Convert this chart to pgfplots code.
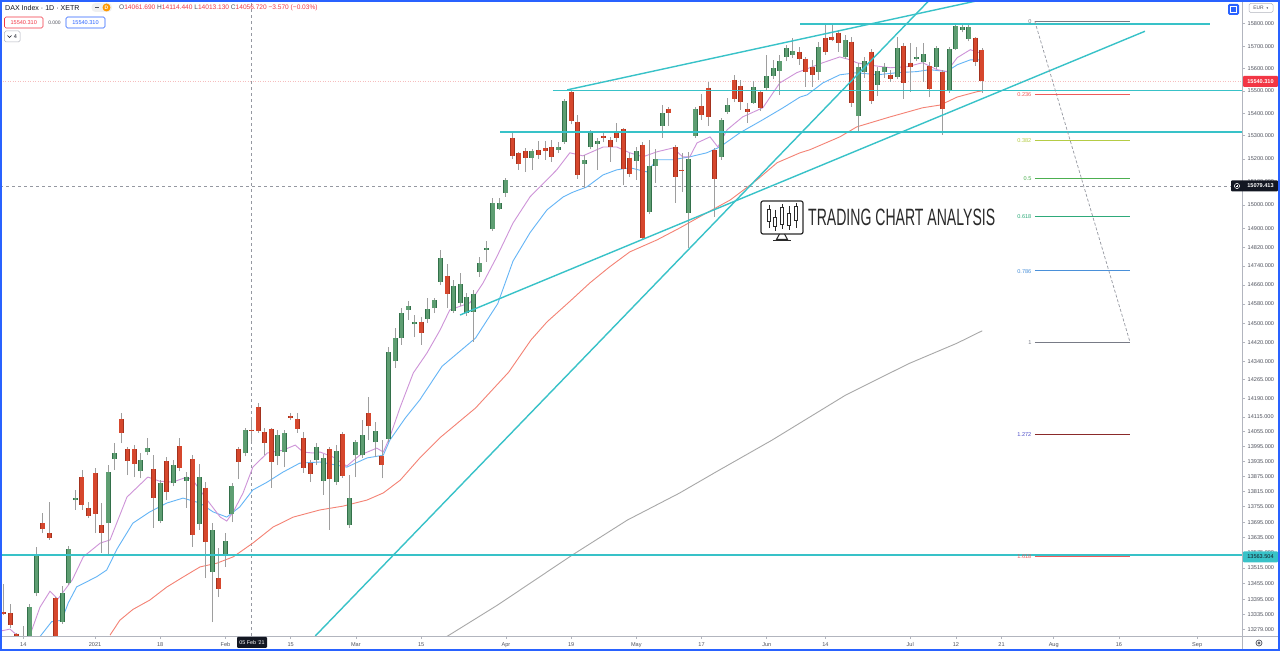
\documentclass[border=0pt]{standalone}
\usepackage{pgfplots}
\pgfplotsset{compat=1.18}
\usepackage{pgfplotstable}
\usepackage{graphicx}
\usepackage{amssymb}
\usepackage{fontspec}
\setmainfont{Liberation Sans}
\setsansfont{Liberation Sans}

\definecolor{upfill}{HTML}{5E9E72}
\definecolor{upedge}{HTML}{33704A}
\definecolor{dnfill}{HTML}{D6472D}
\definecolor{dnedge}{HTML}{A3321E}
\definecolor{wick}{HTML}{9E9E9E}
\definecolor{maviolet}{HTML}{CE93D8}
\definecolor{mablue}{HTML}{64B5F6}
\definecolor{mared}{HTML}{F48274}
\definecolor{magray}{HTML}{A8A8A8}
\definecolor{cyanl}{RGB}{56,194,200}
\definecolor{axisgray}{HTML}{B2B5BE}
\definecolor{labelgray}{HTML}{50535E}
\definecolor{crossgray}{HTML}{9598A1}
\definecolor{pricepink}{HTML}{F6BEBE}
\definecolor{tvred}{HTML}{F23645}
\definecolor{tvblue}{HTML}{2962FF}
\definecolor{tvdark}{HTML}{131722}
\definecolor{fibgray}{HTML}{787B86}
\definecolor{fibred}{HTML}{F05A5A}
\definecolor{fibolive}{HTML}{B5CC45}
\definecolor{fibgreen}{HTML}{4CAF50}
\definecolor{fibteal}{HTML}{2EAA7A}
\definecolor{fibblue}{HTML}{4A90D9}
\definecolor{fibviolet}{HTML}{4B4BC8}
\definecolor{fibmaroon}{HTML}{8B2A2A}
\definecolor{logo}{HTML}{2A2A2A}

% daily candles, i = trading day counted from 14 Dec 2020
\pgfplotstableread{
i O H L C
-3 13345 13452 13333 13338
-2 13341 13376 13283 13295
-1 13262 13266 13050 13114
0 13130 13291 13120 13240
1 13240 13376 13200 13364
2 13417 13597 13406 13561
3 13690 13730 13651 13667
4 13651 13773 13624 13632
5 13399 13403 13030 13246
6 13308 13445 13300 13419
7 13456 13600 13448 13589
8 13781 13821 13742 13789
9 13872 13900 13742 13762
10 13750 13773 13710 13718
11 13888 13908 13651 13726
12 13682 13769 13573 13651
13 13690 13920 13565 13892
14 13944 14008 13900 13968
15 14105 14130 14008 14049
16 13984 13992 13880 13936
17 13984 14000 13872 13924
18 13896 13968 13868 13940
19 13972 14028 13960 13988
20 13904 13960 13671 13789
21 13698 13860 13690 13848
22 13936 13952 13781 13813
23 13848 13940 13835 13920
24 13996 14028 13895 13908
25 13856 13892 13750 13872
26 13944 13960 13597 13643
27 13686 13924 13663 13872
28 13829 13852 13476 13616
29 13499 13690 13306 13663
30 13476 13593 13402 13433
31 13561 13651 13518 13620
32 13726 13848 13694 13837
33 13984 13992 13864 13932
34 13968 14069 13955 14061
35 14061.69 14114.44 14013.13 14056.72
36 14154 14171 14050 14057
37 14053 14069 13960 14008
38 14065 14069 13829 13932
39 13956 14061 13920 14041
40 13972 14061 13912 14049
41 14118 14130 14101 14109
42 14105 14130 14050 14065
43 14028 14053 13890 13908
44 13928 13940 13852 13884
45 13940 14008 13920 13992
46 13856 13964 13801 13948
47 13984 13992 13663 13864
48 13852 14000 13840 13976
49 14045 14053 13870 13876
50 13682 13880 13671 13789
51 13960 14020 13872 14012
52 13960 14101 13950 14041
53 14130 14195 14020 14077
54 14012 14093 13952 14057
55 13956 14020 13868 13920
56 14024 14400 14010 14380
57 14342 14478 14313 14437
58 14437 14562 14408 14541
59 14554 14592 14512 14571
60 14494 14533 14441 14504
61 14504 14525 14408 14458
62 14517 14604 14500 14558
63 14562 14605 14540 14596
64 14672 14807 14660 14773
65 14697 14747 14562 14621
66 14550 14680 14540 14655
67 14583 14710 14570 14663
68 14541 14625 14530 14609
69 14546 14638 14420 14621
70 14714 14777 14693 14751
71 14807 14846 14756 14816
72 14896 15030 14890 15008
73 14982 15030 14978 15008
74 15051 15116 15034 15107
75 15291 15317 15200 15212
76 15225 15230 15150 15177
77 15234 15247 15142 15203
78 15203 15243 15151 15234
79 15238 15278 15200 15216
80 15247 15278 15195 15234
81 15251 15282 15186 15208
82 15238 15273 15225 15251
83 15273 15463 15265 15455
84 15494 15503 15350 15366
85 15361 15392 15110 15129
86 15177 15216 15072 15195
87 15251 15326 15240 15317
88 15264 15291 15151 15278
89 15300 15317 15270 15291
90 15282 15295 15186 15251
91 15317 15357 15270 15291
92 15330 15335 15085 15155
93 15203 15225 15120 15134
94 15190 15251 15107 15234
95 15260 15270 14850 14858
96 14969 15282 14960 15168
97 15168 15243 15094 15199
98 15344 15436 15291 15401
99 15419 15427 15344 15401
100 15251 15260 15008 15120
101 15150 15225 15055 15147
102 14965 15230 14816 15199
103 15300 15427 15290 15419
104 15432 15485 15370 15392
105 15512 15539 15344 15383
106 15238 15247 14948 15111
107 15208 15379 15195 15370
108 15405 15467 15395 15436
109 15548 15570 15450 15463
110 15521 15548 15414 15450
111 15419 15445 15357 15405
112 15445 15543 15440 15516
113 15494 15499 15410 15423
114 15512 15659 15500 15566
115 15566 15637 15550 15602
116 15588 15659 15481 15633
117 15650 15705 15630 15691
118 15659 15737 15645 15677
119 15673 15696 15614 15641
120 15641 15650 15516 15584
121 15606 15637 15516 15570
122 15584 15718 15548 15696
123 15737 15800 15660 15673
124 15741 15795 15720 15728
125 15759 15773 15673 15714
126 15650 15750 15640 15728
127 15719 15741 15427 15445
128 15388 15624 15313 15606
129 15584 15650 15557 15633
130 15673 15687 15440 15454
131 15525 15606 15476 15588
132 15584 15624 15557 15606
133 15570 15593 15540 15552
134 15561 15741 15550 15691
135 15700 15714 15463 15534
136 15624 15714 15494 15606
137 15641 15696 15630 15650
138 15628 15714 15539 15664
139 15610 15628 15472 15508
140 15606 15700 15597 15691
141 15584 15593 15304 15419
142 15499 15696 15490 15687
143 15687 15804 15680 15791
144 15773 15800 15760 15786
145 15732 15804 15720 15786
146 15737 15741 15610 15628
147 15682 15690 15490 15540.31
}\ohlc

% turn the table into segment lists (wick: low-high, body: open-close)
\pgfplotstablegetrowsof{\ohlc}
\pgfmathtruncatemacro\lastrow{\pgfplotsretval-1}
\gdef\wicklist{}\gdef\uplist{}\gdef\dnlist{}
\pgfplotsforeachungrouped \r in {0,...,\lastrow}{%
  \pgfplotstablegetelem{\r}{i}\of\ohlc \let\ci\pgfplotsretval
  \pgfplotstablegetelem{\r}{O}\of\ohlc \let\co\pgfplotsretval
  \pgfplotstablegetelem{\r}{H}\of\ohlc \let\ch\pgfplotsretval
  \pgfplotstablegetelem{\r}{L}\of\ohlc \let\cl\pgfplotsretval
  \pgfplotstablegetelem{\r}{C}\of\ohlc \let\cc\pgfplotsretval
  \xdef\wicklist{\wicklist (\ci,\cl) (\ci,\ch) (\ci,nan)}%
  \pgfmathtruncatemacro\isup{\cc<\co ? 0 : 1}%
  \ifnum\isup=1
    \xdef\uplist{\uplist (\ci,\co) (\ci,\cc) (\ci,nan)}%
  \else
    \xdef\dnlist{\dnlist (\ci,\co) (\ci,\cc) (\ci,nan)}%
  \fi
}
\def\nanword{nan}

\begin{document}
\begin{tikzpicture}
\path[use as bounding box] (0,0) rectangle (1280bp,651bp);
\fill[white] (0,0) rectangle (1280bp,651bp);

\begin{axis}[
  at={(0,15bp)}, anchor=south west,
  scale only axis, width=1242bp, height=636bp,
  % price axis is logarithmic, as in the screenshot
  y coord trafo/.code={\edef\tmpy{#1}\ifx\tmpy\nanword\def\pgfmathresult{nan}\else\pgfmathparse{10000*(ln(#1)-9.5)}\fi},
  xmin=-3.57, xmax=186.87,
  ymin=13254, ymax=15909,
  scaled y ticks=false,
  axis x line*=bottom, axis y line*=right,
  axis line style={draw=axisgray, line width=0.8bp},
  tick style={draw=axisgray, line width=0.6bp},
  tick align=outside, major tick length=3bp,
  unbounded coords=jump,
  xtick={0,11,21,31,41,51,61,74,84,94,104,114,123,136,143,150,158,168,180},
  xticklabels={14,2021,18,Feb,15,Mar,15,Apr,19,May,17,Jun,14,Jul,12,21,Aug,16,Sep},
  ytick={13279,13335,13395,13455,13515,13575,13635,13695,13755,13815,13875,13935,13995,14055,14115,14190,14265,14340,14420,14500,14580,14660,14740,14820,14900,15000,15100,15200,15300,15400,15500,15600,15700,15800},
  yticklabels={13279.000,13335.000,13395.000,13455.000,13515.000,13575.000,13635.000,13695.000,13755.000,13815.000,13875.000,13935.000,13995.000,14055.000,14115.000,14190.000,14265.000,14340.000,14420.000,14500.000,14580.000,14660.000,14740.000,14820.000,14900.000,15000.000,15100.000,15200.000,15300.000,15400.000,15500.000,15600.000,15700.000,15800.000},
  ticklabel style={font=\fontsize{5.6}{6.5}\selectfont, text=labelgray},
  xticklabel style={inner sep=0pt, yshift=-3bp},
  yticklabel style={inner sep=0pt, xshift=2.5bp},
]

% crosshair and last-price line
\addplot[crossgray, line width=0.6bp, dash pattern=on 3bp off 3bp, forget plot] coordinates {(35,13254) (35,15909)};
\addplot[crossgray, line width=0.6bp, dash pattern=on 3bp off 3bp, forget plot] coordinates {(-3.57,15079.413) (186.87,15079.413)};
\addplot[pricepink, line width=0.7bp, dash pattern=on 1bp off 1.5bp, forget plot] coordinates {(-3.57,15540.31) (186.87,15540.31)};

% moving averages
\addplot[magray, line width=0.9bp, mark=none] coordinates {
(63.0,13230) (65.09,13254) (72.75,13372) (84.11,13564) (92.62,13702) (100.58,13808)
(106.26,13893) (114.78,14020) (126.13,14203) (135.79,14332) (143.16,14415) (147.03,14467)};
\addplot[mared, line width=0.9bp, mark=none] coordinates {
(13.3,13257) (14.8,13314) (16.8,13355) (19.4,13391) (22.0,13441) (24.5,13480) (27.1,13519) (29.7,13534)
(32.2,13558) (35.2,13612) (38.3,13675) (41.4,13714) (45.5,13742) (49.0,13757) (52.7,13781)
(55.2,13809) (57.8,13860) (60.8,13948) (63.9,14030) (69.35,14150) (74.45,14297) (77.85,14429)
(80.3,14504) (83.8,14590) (86.9,14668) (89.9,14735) (93.0,14798) (97.2,14850) (100.7,14901)
(104.8,14965) (108.4,15021) (112.5,15107) (115.6,15182) (119.1,15225) (120.6,15238)
(125.2,15295) (127.8,15339) (132.9,15383) (137.9,15423) (140.6,15436) (143.2,15472)
(146.2,15494) (147.1,15499)};
\addplot[mablue, line width=0.9bp, mark=none] coordinates {
(2.56,13251) (4.35,13308) (5.89,13314) (6.9,13380) (8.19,13442) (11.25,13481) (12.79,13507)
(14.4,13590) (16.8,13690)
(19.4,13734) (22.0,13769) (24.5,13789) (27.1,13769) (29.1,13734) (31.2,13714) (33.2,13754)
(35.2,13821) (37.4,13852) (39.8,13892) (42.4,13928) (45.5,13932) (49.6,13912) (52.7,13948)
(55.2,13960) (56.2,14020) (58.6,14110) (60.8,14183) (64.2,14320) (69.35,14437) (72.75,14580)
(75.1,14760) (77.7,14880) (80.3,14978) (82.8,15034) (84.3,15055) (86.4,15077)
(88.9,15129) (91.0,15151) (93.0,15160) (95.6,15142) (97.2,15195) (99.6,15195) (102.2,15208)
(104.8,15225) (106.8,15251) (109.9,15313) (113.4,15370) (116.5,15423) (119.1,15472)
(120.2,15481) (122.6,15534) (125.2,15570) (127.8,15579) (130.9,15570) (134.0,15579)
(137.0,15584) (139.0,15593) (141.6,15584) (143.2,15615) (145.2,15637) (146.7,15637)};
\addplot[maviolet, line width=0.9bp, mark=none] coordinates {
(-3.57,13272) (-2.04,13280) (-0.97,13257) (0,13238) (1.03,13257) (2.56,13364) (4.1,13425)
(5.3,13395) (7.5,13468) (9.2,13558) (11.8,13612) (13.3,13624)
(15.9,13793) (19.1,13872) (20.9,13856) (22.9,13852) (25.1,13872) (26.0,13860) (28.2,13781)
(30.2,13714) (31.2,13698) (32.2,13734) (33.7,13809) (35.2,13912) (37.4,13968) (39.8,13980)
(41.7,14000) (42.9,13972) (44.4,13968) (45.5,13972) (47.5,13952) (49.6,13916) (51.6,13960)
(54.2,13988) (55.2,13972) (56.2,14032) (57.8,14154) (59.8,14293) (61.9,14375) (63.9,14470)
(65.4,14554) (68.5,14584) (70.5,14667) (72.6,14777) (75.1,14922) (77.7,15034) (81.8,15151)
(83.8,15225) (85.8,15212) (88.9,15251) (91.0,15251) (93.0,15225) (95.0,15208) (97.2,15230)
(99.6,15247) (101.1,15208) (102.2,15208) (103.3,15269) (105.3,15295) (106.5,15251)
(107.9,15326) (110.3,15383) (113.4,15423) (116.0,15534) (118.6,15579) (120.6,15601)
(122.6,15624) (125.2,15650) (126.8,15637) (127.8,15624) (129.4,15615) (132.9,15601)
(135.5,15606) (137.9,15624) (140.1,15593) (141.6,15584) (143.2,15646) (145.2,15682)
(146.7,15669) (147.1,15650)};

% candles, from the segment lists built out of \ohlc
\begingroup\edef\x{\endgroup
  \noexpand\addplot[wick, line width=0.9bp, mark=none, forget plot] coordinates {\wicklist};
  \noexpand\addplot[upedge, line width=5bp, mark=none, forget plot] coordinates {\uplist};
  \noexpand\addplot[upfill, line width=3.4bp, mark=none, forget plot] coordinates {\uplist};
  \noexpand\addplot[dnedge, line width=5bp, mark=none, forget plot] coordinates {\dnlist};
  \noexpand\addplot[dnfill, line width=3.4bp, mark=none, forget plot] coordinates {\dnlist};
}\x

% trend lines and levels
\addplot[cyanl, line width=1.8bp] coordinates {(119.1,15800) (182.0,15800)};
\addplot[cyanl, line width=1.8bp] coordinates {(81.2,15500) (186.87,15500)};
\addplot[cyanl, line width=1.8bp] coordinates {(73.1,15317) (186.87,15317)};
\addplot[cyanl, line width=1.8bp] coordinates {(-3.57,13563.504) (186.87,13563.504)};
\addplot[cyanl, line width=1.4bp] coordinates {(83.4,15503) (147.0,15909)};
\addplot[cyanl, line width=1.4bp] coordinates {(66.96,14533) (171.99,15766)};
\addplot[cyanl, line width=1.4bp] coordinates {(44.77,13254) (139.0,15909)};

% fibonacci retracement
\addplot[crossgray, line width=0.7bp, dash pattern=on 3bp off 2bp] coordinates {(155.1,15810) (169.7,14420)};
\addplot[fibgray, line width=1bp] coordinates {(155.1,15810) (169.7,15810)};
\addplot[fibred, line width=1bp] coordinates {(155.1,15481.96) (169.7,15481.96)};
\addplot[fibolive, line width=1bp] coordinates {(155.1,15279.0) (169.7,15279.0)};
\addplot[fibgreen, line width=1bp] coordinates {(155.1,15115.0) (169.7,15115.0)};
\addplot[fibteal, line width=1bp] coordinates {(155.1,14950.98) (169.7,14950.98)};
\addplot[fibblue, line width=1bp] coordinates {(155.1,14717.46) (169.7,14717.46)};
\addplot[fibgray, line width=1bp] coordinates {(155.1,14420) (169.7,14420)};
\addplot[fibmaroon, line width=1bp] coordinates {(155.1,14041.4) (169.7,14041.4)};
\addplot[fibred, line width=1bp] coordinates {(155.1,13560.4) (169.7,13560.4)};
\begin{scope}[every node/.style={anchor=east, inner sep=0pt, font=\fontsize{5.6}{6.5}\selectfont}]
\node[text=fibgray] at (axis cs:154.6,15810) {0};
\node[text=fibred] at (axis cs:154.6,15481.96) {0.236};
\node[text=fibolive] at (axis cs:154.6,15279.0) {0.382};
\node[text=fibgreen] at (axis cs:154.6,15115.0) {0.5};
\node[text=fibteal] at (axis cs:154.6,14950.98) {0.618};
\node[text=fibblue] at (axis cs:154.6,14717.46) {0.786};
\node[text=fibgray] at (axis cs:154.6,14420) {1};
\node[text=fibviolet] at (axis cs:154.6,14041.4) {1.272};
\node[text=fibred] at (axis cs:154.6,13560.4) {1.618};
\end{scope}
\end{axis}

% chrome around the chart, in pixel units (y downwards)
\begin{scope}[x=1bp, y=-1bp, yshift=651bp]
  \draw[axisgray, line width=0.8bp] (1242,636) -- (1280,636);
  \draw[axisgray, line width=0.8bp] (1242,636) -- (1242,651);
  % price labels on the axis
  \fill[tvred, rounded corners=1bp] (1243,76) rectangle (1278,87);
  \node[text=white, font=\fontsize{5.6}{6.5}\selectfont\bfseries, inner sep=0pt] at (1260.5,81.5) {15540.310};
  \fill[tvdark, rounded corners=1bp] (1231,180.5) rectangle (1278,191.5);
  \draw[white, line width=0.5bp] (1237,186) circle (2.6);
  \draw[white, line width=0.5bp] (1235.6,186) -- (1238.4,186) (1237,184.6) -- (1237,187.4);
  \node[text=white, font=\fontsize{5.6}{6.5}\selectfont\bfseries, inner sep=0pt] at (1260.5,186) {15079.413};
  \fill[cyanl, rounded corners=1bp] (1243,551.5) rectangle (1278,562.5);
  \node[text=tvdark, font=\fontsize{5.6}{6.5}\selectfont, inner sep=0pt] at (1260.5,557) {13563.504};
  % date label of crosshair
  \fill[tvdark, rounded corners=1bp] (237,637) rectangle (267,648);
  \node[text=white, font=\fontsize{5.4}{6.5}\selectfont, inner sep=0pt] at (252,642.5) {05 Feb '21};
  % currency box and icons
  \draw[axisgray, line width=0.5bp, rounded corners=1.5bp] (1249,3.5) rectangle (1273,12.5);
  \node[text=labelgray, font=\fontsize{5}{6}\selectfont, inner sep=0pt] at (1261,8) {EUR \,\raisebox{0.3bp}{\scalebox{0.6}{$\blacktriangledown$}}};
  \fill[tvblue, rounded corners=1.5bp] (1228,4) rectangle (1239,15);
  \draw[white, line width=0.7bp] (1230.8,6.8) rectangle (1236.2,12.2);
  \draw[labelgray, line width=0.7bp] (1259,643) circle (3);
  \draw[labelgray, line width=0.7bp] (1259,643) circle (1.1);
  % header
  \node[anchor=west, inner sep=0pt, text=tvdark, font=\fontsize{7.1}{8}\selectfont] at (5,7.5) {DAX Index · 1D · XETR};
  \fill[black!6, rounded corners=4bp] (91.5,3) rectangle (112,12);
  \draw[labelgray, line width=0.6bp] (95,7.5) -- (99,7.5);
  \fill[orange!80!yellow] (106.5,7.5) circle (4);
  \node[text=white, font=\fontsize{5}{6}\selectfont\bfseries, inner sep=0pt] at (106.5,7.5) {D};
  \node[anchor=west, inner sep=0pt, font=\fontsize{6.6}{8}\selectfont] at (119,7.5)
    {\color{labelgray}O\color{tvred}14061.690 \color{labelgray}H\color{tvred}14114.440 \color{labelgray}L\color{tvred}14013.130 \color{labelgray}C\color{tvred}14056.720 −3.570 (−0.03\%)};
  \draw[tvred, line width=0.6bp, rounded corners=1.5bp] (4.5,17) rectangle (43,28);
  \node[text=tvred, font=\fontsize{5.6}{6.5}\selectfont, inner sep=0pt] at (23.75,22.5) {15540.310};
  \node[text=labelgray, font=\fontsize{5}{6}\selectfont, inner sep=0pt] at (54.5,22.5) {0.000};
  \draw[tvblue, line width=0.6bp, rounded corners=1.5bp] (66,17) rectangle (105,28);
  \node[text=tvblue, font=\fontsize{5.6}{6.5}\selectfont, inner sep=0pt] at (85.5,22.5) {15540.310};
  \draw[axisgray, line width=0.5bp, rounded corners=1.5bp] (4.5,31) rectangle (20,42);
  \draw[tvdark, line width=0.6bp] (7.5,35.5) -- (9.5,37.5) -- (11.5,35.5);
  \node[text=tvdark, font=\fontsize{5.6}{6.5}\selectfont, inner sep=0pt] at (15.5,36.5) {4};
  % logo
  \draw[logo, line width=1.2bp, rounded corners=2bp] (761,201) rectangle (803,234);
  \foreach \cx/\wt/\bt/\bb/\wb in {769/205/209/221/228, 775/210/217/226/231, 782/204/207/224/229, 789/206/213/225/230, 796/203/206/220/228}{
    \draw[logo, line width=0.8bp] (\cx,\wt) -- (\cx,\wb);
    \filldraw[draw=logo, fill=white, line width=0.8bp] (\cx-1.8,\bt) rectangle (\cx+1.8,\bb);
  }
  \draw[logo, line width=1bp] (779.5,234) -- (776.5,239.5) -- (787.5,239.5) -- (784.5,234);
  \draw[logo, line width=1bp] (773,240.5) -- (791,240.5);
  \node[anchor=west, inner sep=0pt, text=logo] at (808,217.5) {\resizebox{187bp}{16.5bp}{TRADING CHART ANALYSIS}};
  % selection frame
  \draw[tvblue, line width=1.6bp] (0.8,0.8) rectangle (1279.2,650.2);
\end{scope}
\end{tikzpicture}
\end{document}
